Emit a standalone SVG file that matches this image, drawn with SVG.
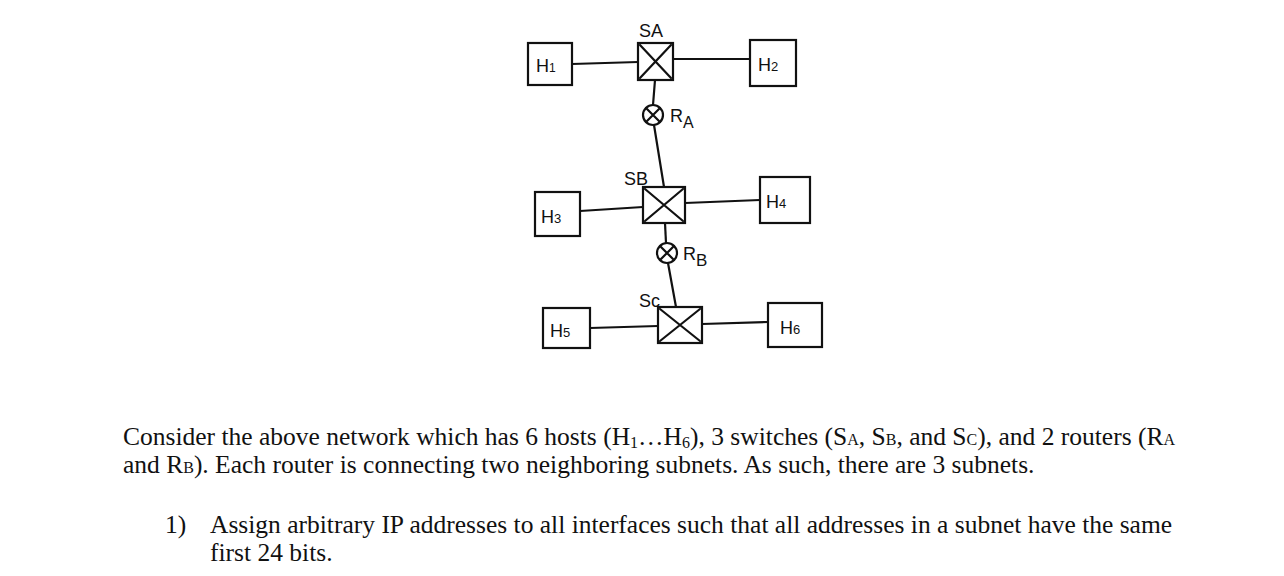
<svg xmlns="http://www.w3.org/2000/svg" width="1284" height="576" viewBox="0 0 1284 576">
<style>
.b{fill:none;stroke:#111;stroke-width:2.2;stroke-linecap:round}
.h{font-family:"Liberation Sans",sans-serif;font-size:18px;fill:#111}
.t{font-family:"Liberation Serif",serif;font-size:25.5px;fill:#111}
.s{font-size:16px}
</style>
<rect width="1284" height="576" fill="#fff"/>
<g id="connectors" class="b">
<line x1="572" y1="64" x2="638" y2="62"/>
<line x1="673" y1="59" x2="750" y2="59"/>
<line x1="655" y1="80" x2="653" y2="105"/>
<line x1="654" y1="125" x2="664" y2="187"/>
<line x1="580" y1="211" x2="643" y2="207"/>
<line x1="685" y1="203" x2="760" y2="200"/>
<line x1="665" y1="223" x2="666" y2="243"/>
<line x1="668" y1="263" x2="676" y2="307"/>
<line x1="590" y1="328" x2="658" y2="326"/>
<line x1="702" y1="324" x2="768" y2="322"/>
</g>
<g id="H1"><rect class="b" x="528" y="43" width="44" height="42"/><text class="h" x="536" y="72">H<tspan font-size="12">1</tspan></text></g>
<g id="H2"><rect class="b" x="750" y="40" width="46" height="46"/><text class="h" x="758" y="71">H<tspan font-size="13">2</tspan></text></g>
<g id="H3"><rect class="b" x="535" y="192" width="45" height="44"/><text class="h" x="541" y="223">H<tspan font-size="13">3</tspan></text></g>
<g id="H4"><rect class="b" x="760" y="177" width="50" height="46"/><text class="h" x="766" y="208">H<tspan font-size="13">4</tspan></text></g>
<g id="H5"><rect class="b" x="543" y="308" width="47" height="40"/><text class="h" x="550" y="337">H<tspan font-size="13">5</tspan></text></g>
<g id="H6"><rect class="b" x="768" y="303" width="54" height="44"/><text class="h" x="780" y="334">H<tspan font-size="13">6</tspan></text></g>
<g id="SA"><rect class="b" x="638" y="43" width="35" height="37"/><path class="b" d="M640 45L671 78M671 45L640 78"/><text class="h" x="639" y="37" font-size="17">SA</text></g>
<g id="SB"><rect class="b" x="643" y="187" width="42" height="36"/><path class="b" d="M645 189L683 221M683 189L645 221"/><text class="h" x="624" y="185" font-size="14">SB</text></g>
<g id="SC"><rect class="b" x="658" y="307" width="44" height="36"/><path class="b" d="M660 309L700 341M700 309L660 341"/><text class="h" x="639" y="307" font-size="14">Sc</text></g>
<g id="RA"><circle class="b" cx="653" cy="115" r="10"/><path class="b" d="M646 108L660 122M660 108L646 122"/><text class="h" x="670" y="122">R<tspan dy="6" font-size="16">A</tspan></text></g>
<g id="RB"><circle class="b" cx="667" cy="253" r="10"/><path class="b" d="M660 246L674 260M674 246L660 260"/><text class="h" x="683" y="260">R<tspan dy="6" font-size="17">B</tspan></text></g>
<g id="text">
<text class="t" x="123" y="445">Consider the above network which has 6 hosts (H<tspan class="s" dy="3">1</tspan><tspan dy="-3">…H</tspan><tspan class="s" dy="3">6</tspan><tspan dy="-3">), 3 switches (S</tspan><tspan class="s">A</tspan>, S<tspan class="s">B</tspan>, and S<tspan class="s">C</tspan>), and 2 routers (R<tspan class="s">A</tspan></text>
<text class="t" x="123" y="473">and R<tspan class="s">B</tspan>). Each router is connecting two neighboring subnets. As such, there are 3 subnets.</text>
<text class="t" x="165" y="533">1)</text>
<text class="t" x="210" y="533">Assign arbitrary IP addresses to all interfaces such that all addresses in a subnet have the same</text>
<text class="t" x="210" y="561">first 24 bits.</text>
</g>
</svg>
